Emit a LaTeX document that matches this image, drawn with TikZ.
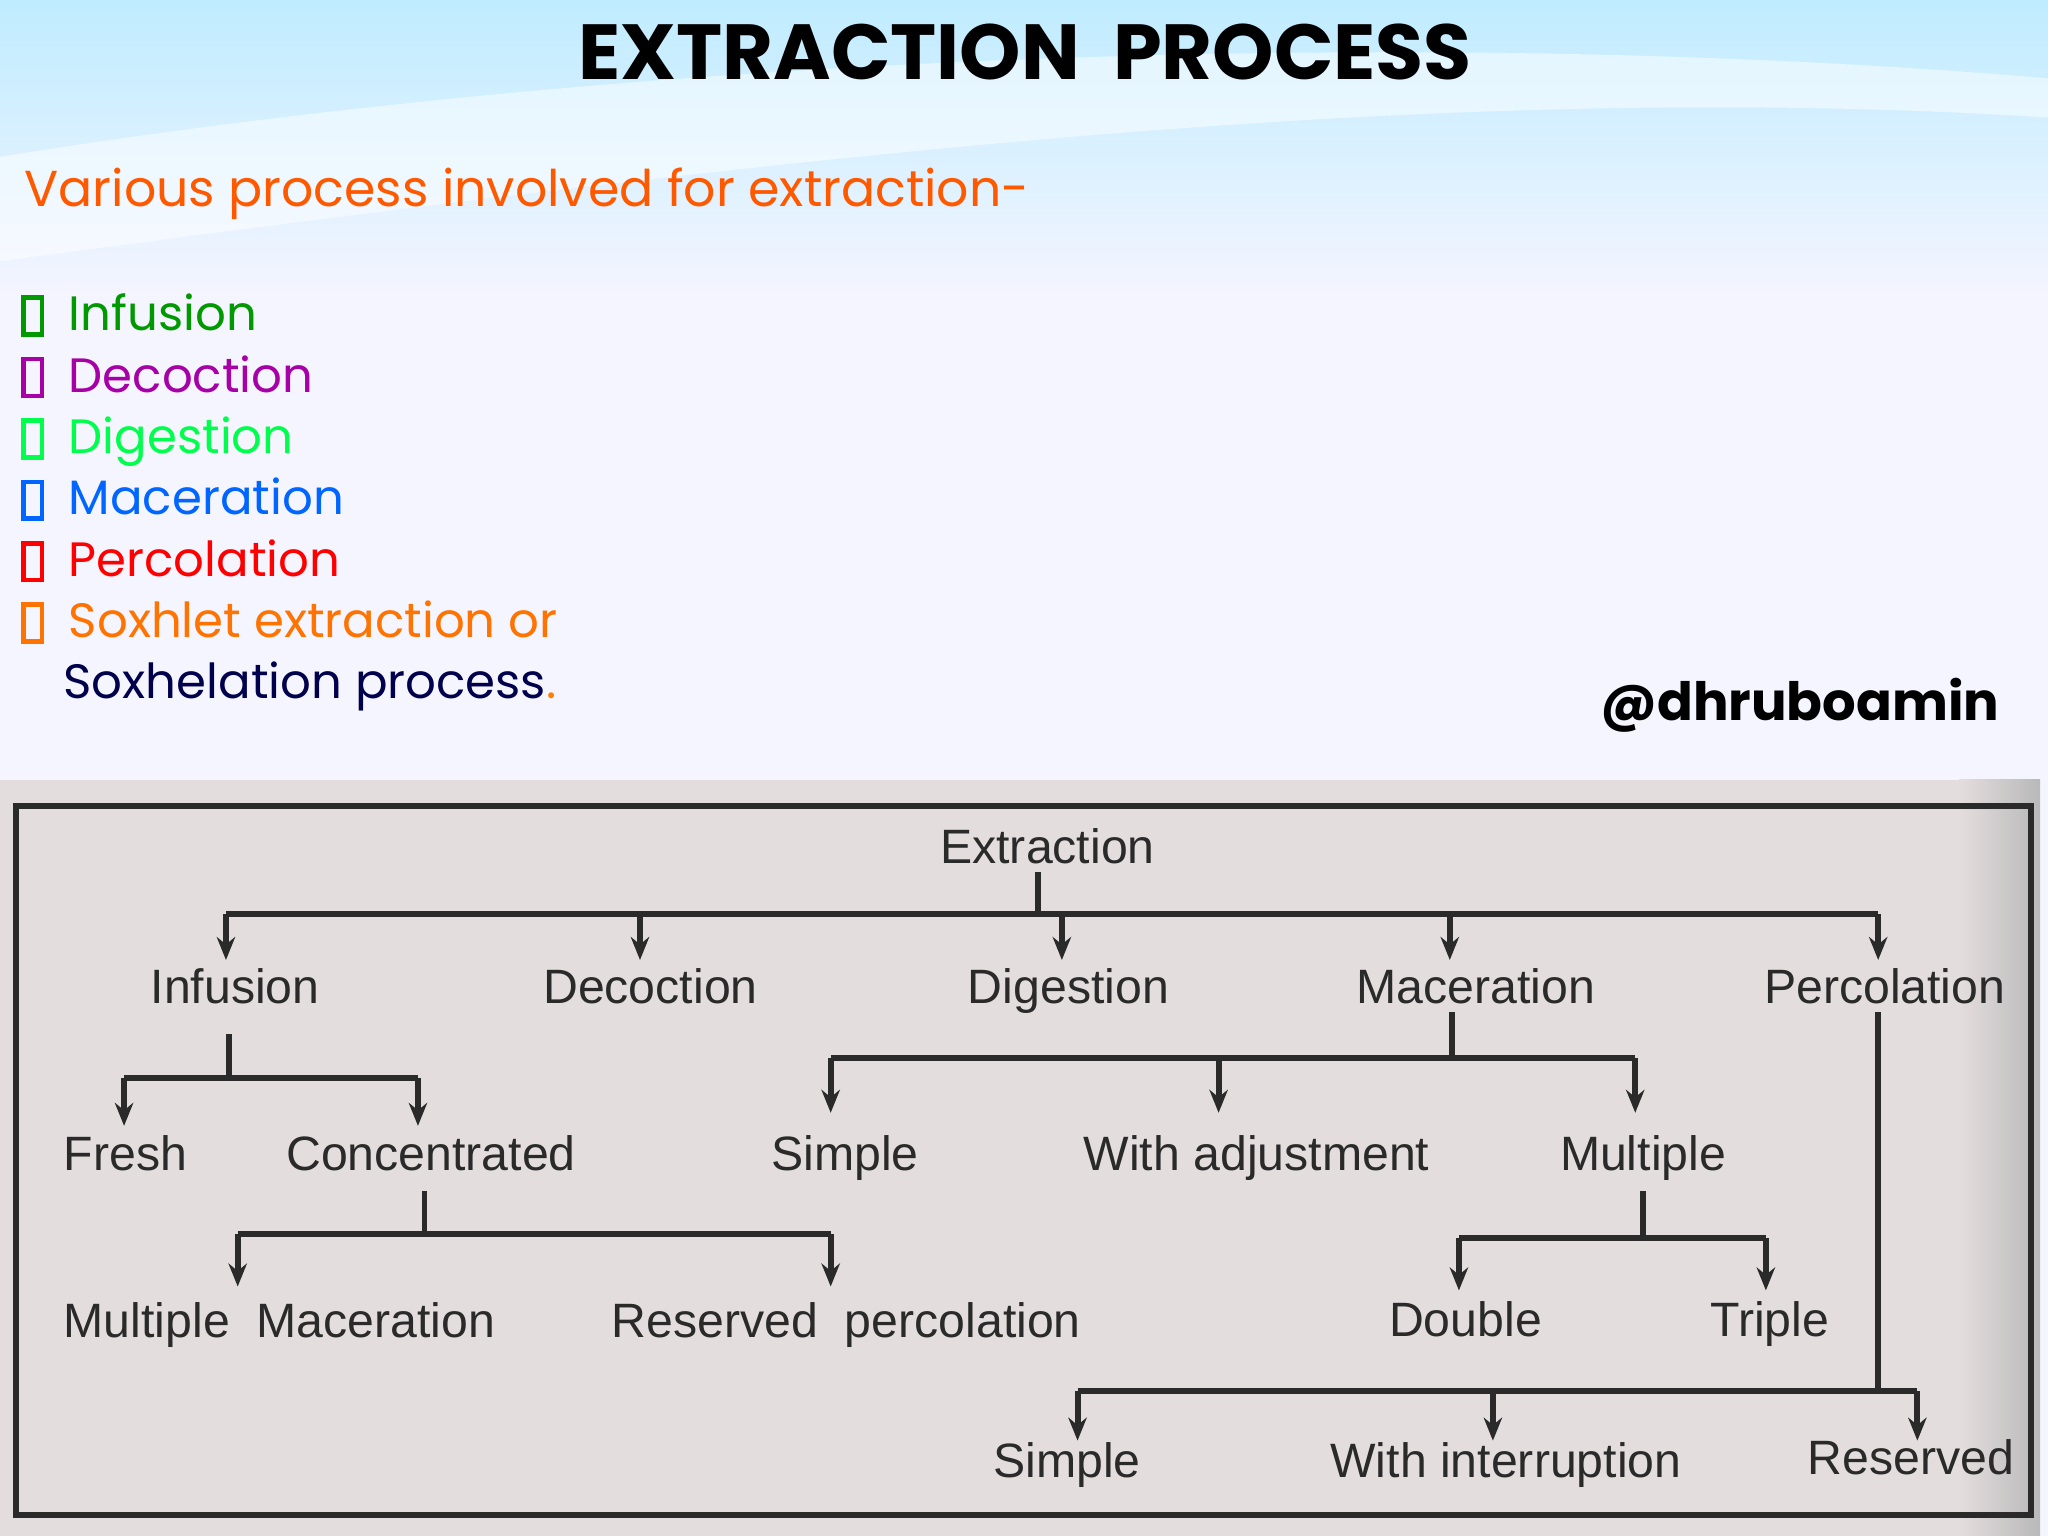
\documentclass[tikz,border=0pt]{standalone}
\usepackage{fontspec}
\setmainfont{Liberation Sans}
\newfontfamily\hand{Poppins}
\usetikzlibrary{arrows.meta}
\definecolor{bgpaper}{HTML}{E4DDDE}
\definecolor{inkc}{HTML}{2A2A2A}
\begin{document}
\begin{tikzpicture}[x=0.01cm,y=-0.01cm,
  lab/.style={font=\fontsize{10.5}{12}\selectfont, text=inkc, inner sep=1pt, text height=1.6ex, text depth=0.4ex},
  ln/.style={draw=inkc, line width=1.3pt},
  arr/.style={ln, -{Stealth[length=5pt,width=4pt]}},
  item/.style={font=\hand\fontsize{10.5}{12}\selectfont, anchor=west, inner sep=0pt, text height=1.6ex, text depth=0.4ex},
  bx/.style={draw=#1, line width=1pt, minimum width=4pt, minimum height=8pt, inner sep=0pt}]
\useasboundingbox (0,0) rectangle (1568,1176);
\fill[white!92!blue!50] (0,0) rectangle (1568,1176);
\shade[top color=blue!30!cyan!25, bottom color=white!92!blue!50] (0,0) rectangle (1568,230);
\fill[white,opacity=0.5] (0,120) .. controls (500,40) and (1100,20) .. (1568,60) -- (1568,90) .. controls (1100,60) and (600,120) .. (0,200) -- cycle;
\node[font=\hand\bfseries\fontsize{17}{20}\selectfont] (title) at (785,40) {EXTRACTION\ \ PROCESS};
\node[font=\hand\fontsize{11}{13}\selectfont, text=orange!70!red, anchor=west, inner sep=0pt] (intro) at (18,148) {Various process involved for extraction-};
\foreach \t/\c/\y [count=\i] in {Infusion/green!60!black/242, Decoction/violet!70!magenta/289, Digestion/green!70!cyan/336, Maceration/blue!60!cyan/383, Percolation/red/430, Soxhlet extraction or/orange!90!red/477}{
  \node[bx=\c] (b\i) at (25,\y) {};
  \node[item, text=\c] (t\i) at (52,\y) {\t};
}
\node[item, text=blue!30!black] (t7) at (48,524) {Soxhelation process\textcolor{orange}{.}};
\node[font=\hand\bfseries\fontsize{11.5}{13}\selectfont, text=black] (tag) at (1378,540) {@dhruboamin};
% photo
\fill[bgpaper] (0,597) rectangle (1562,1176);
\shade[left color=bgpaper, right color=gray!55] (1500,597) rectangle (1562,1176);
\draw[ln] (12,617) rectangle (1555,1160);
% nodes
\node[lab] (ext) at (802,650) {Extraction};
\node[lab] (inf) at (180,757) {Infusion};
\node[lab] (dec) at (498,757) {Decoction};
\node[lab] (dig) at (818,757) {Digestion};
\node[lab] (mac) at (1130,757) {Maceration};
\node[lab] (per) at (1443,757) {Percolation};
\node[lab] (fre) at (96,885) {Fresh};
\node[lab] (con) at (330,885) {Concentrated};
\node[lab] (mm) at (214,1013) {Multiple\ \ Maceration};
\node[lab] (rp) at (648,1013) {Reserved\ \ percolation};
\node[lab] (sim) at (647,885) {Simple};
\node[lab] (wa) at (962,885) {With adjustment};
\node[lab] (mul) at (1258,885) {Multiple};
\node[lab] (dou) at (1122,1012) {Double};
\node[lab] (tri) at (1355,1012) {Triple};
\node[lab] (ps) at (817,1120) {Simple};
\node[lab] (wi) at (1153,1120) {With interruption};
\node[lab] (res) at (1463,1118) {Reserved};
% connectors
\coordinate (j1) at (795,700);
\draw[ln] (795,668) -- (j1);
\draw[ln] (173,700) -- (1438,700);
\foreach \n/\x in {inf/173,dec/490,dig/813,mac/1110,per/1438} \draw[arr] (\x,700) -- (\x,735);
\coordinate (j2) at (175,825);
\draw[ln] (175,792) -- (j2);
\draw[ln] (95,825) -- (320,825);
\draw[arr] (95,825) -- (95,862); \draw[arr] (320,825) -- (320,862);
\draw[ln] (325,912) -- (325,945) (182,945) -- (636,945);
\draw[arr] (182,945) -- (182,985); \draw[arr] (636,945) -- (636,985);
\draw[ln] (1112,775) -- (1112,810) (636,810) -- (1252,810);
\foreach \x in {636,933,1252} \draw[arr] (\x,810) -- (\x,852);
\draw[ln] (1258,912) -- (1258,948) (1117,948) -- (1352,948);
\draw[arr] (1117,948) -- (1117,988); \draw[arr] (1352,948) -- (1352,988);
\draw[ln] (1438,775) -- (1438,1065) (825,1065) -- (1468,1065);
\foreach \x in {825,1143,1468} \draw[arr] (\x,1065) -- (\x,1103);
\end{tikzpicture}
\end{document}
